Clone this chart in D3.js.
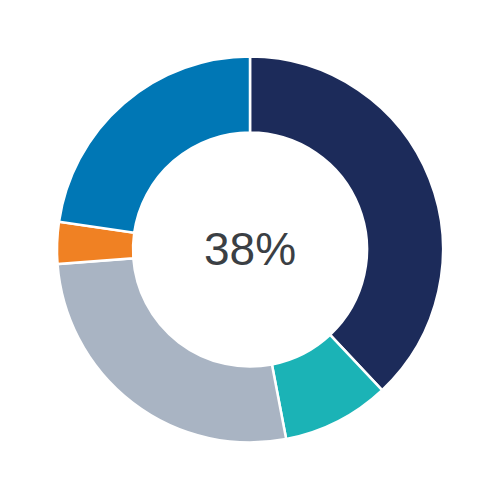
<!DOCTYPE html>
<html>
<head>
	<script src="https://cdn.jsdelivr.net/npm/d3@7"></script>
	<style>
		body { margin: 0; background: white; }
	</style>
</head>
<body>
	<script>

		// slice order is clockwise from 12 o'clock
		var categories = ["A", "B", "C", "D", "E"];
		var values     = [38, 9, 26.8, 3.5, 22.7];
		var colors     = ["#1c2b5a", "#1bb3b6", "#a9b4c3", "#f08123", "#0077b5"];
		var centerText = "38%";

		var dimension = 500;

		var svg = d3.select("body").append("svg")
			.attr("width", dimension)
			.attr("height", dimension);

		var g = svg.append("g")
			.attr("transform", "translate(250,249.5)");

		var pie = d3.pie()
			.sort(null)
			.value(function(d, i) { return values[i]; });

		var arc = d3.arc()
			.innerRadius(117)
			.outerRadius(193);

		var color = d3.scaleOrdinal()
			.domain(categories)
			.range(colors);

		g.selectAll("path")
			.data(pie(categories))
			.enter().append("path")
			.attr("d", arc)
			.attr("fill", function(d) { return color(d.data); })
			.attr("stroke", "white")
			.attr("stroke-width", 2.5);

		g.append("text")
			.attr("text-anchor", "middle")
			.attr("y", 15)
			.style("font-family", "'Liberation Sans', Arial, sans-serif")
			.style("font-size", "46px")
			.style("fill", "#3b3f44")
			.text(centerText);

	</script>
</body>
</html>
